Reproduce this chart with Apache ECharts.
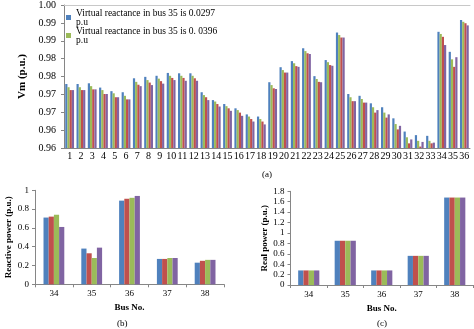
<!DOCTYPE html>
<html>
<head>
<meta charset="utf-8">
<script src="https://cdn.jsdelivr.net/npm/echarts@6/dist/echarts.min.js"></script>
<style>html,body{margin:0;padding:0;background:#fff}#c{width:474px;height:329px}</style>
</head>
<body>
<div id="c"></div>
<script>
// ---- data ----
const buses = ['1','2','3','4','5','6','7','8','9','10','11','12','13','14','15','16','17','18','19','20','21','22','23','24','25','26','27','28','29','30','31','32','33','34','35','36'];
const vmBlue   = [0.9779,0.9779,0.9781,0.9769,0.9759,0.9756,0.9795,0.9799,0.9802,0.9810,0.9809,0.9809,0.9756,0.9734,0.9723,0.9711,0.9694,0.9688,0.9784,0.9826,0.9843,0.9879,0.9801,0.9846,0.9923,0.9751,0.9746,0.9725,0.9714,0.9683,0.9646,0.9636,0.9634,0.9925,0.9869,0.9958];
const vmGreen  = [0.9770,0.9770,0.9773,0.9762,0.9753,0.9746,0.9785,0.9790,0.9794,0.9802,0.9802,0.9802,0.9748,0.9730,0.9717,0.9706,0.9688,0.9681,0.9776,0.9818,0.9837,0.9871,0.9793,0.9840,0.9916,0.9742,0.9737,0.9714,0.9699,0.9667,0.9630,0.9620,0.9620,0.9919,0.9848,0.9953];
const vmRed    = [0.9762,0.9762,0.9764,0.9751,0.9742,0.9736,0.9777,0.9783,0.9787,0.9796,0.9796,0.9795,0.9742,0.9723,0.9711,0.9699,0.9681,0.9674,0.9767,0.9811,0.9829,0.9865,0.9785,0.9832,0.9909,0.9731,0.9727,0.9699,0.9685,0.9652,0.9613,0.9604,0.9613,0.9911,0.9827,0.9949];
const vmPurple = [0.9762,0.9762,0.9764,0.9751,0.9742,0.9736,0.9773,0.9776,0.9780,0.9790,0.9788,0.9788,0.9734,0.9716,0.9704,0.9690,0.9674,0.9666,0.9765,0.9811,0.9827,0.9863,0.9784,0.9830,0.9909,0.9731,0.9727,0.9706,0.9694,0.9662,0.9624,0.9617,0.9615,0.9888,0.9854,0.9943];
const vmTickLabels = ['0.96','0.96','0.97','0.97','0.98','0.98','0.99','0.99','1.00'];
const legendNames = ['Virtual reactance in bus 35 is 0.0297 p.u','Virtual reactance in bus 35 is 0. 0396 p.u'];

const powerBuses = ['34','35','36','37','38'];
const qBlue   = [0.71,0.38,0.89,0.27,0.23];
const qRed    = [0.72,0.33,0.91,0.27,0.25];
const qGreen  = [0.74,0.28,0.92,0.28,0.26];
const qPurple = [0.61,0.39,0.94,0.28,0.26];
const pBlue   = [0.28,0.85,0.28,0.56,1.68];
const pRed    = [0.28,0.85,0.28,0.56,1.68];
const pGreen  = [0.28,0.85,0.28,0.56,1.68];
const pPurple = [0.28,0.85,0.28,0.56,1.68];

// ---- styling ----
const F = 'Liberation Serif';
const C = {blue:'#4F81BD', red:'#C0504D', green:'#9BBB59', purple:'#8064A2'};
const axisGray = '#868686';

const chart = echarts.init(document.getElementById('c'), null, {renderer:'canvas'});

function bar(name, data, color, xi, yi, gap) {
  return {type:'bar', name:name, data:data, xAxisIndex:xi, yAxisIndex:yi,
    itemStyle:{color:color}, barGap:'0%', barCategoryGap:gap, animation:false};
}

const legendText = {fontFamily:F, fontSize:9.5, color:'#000', lineHeight:9, padding:[9,0,0,0]};

chart.setOption({
  animation:false,
  textStyle:{fontFamily:F},
  legend:[
    {data:[legendNames[0]], left:66, top:4, padding:0, itemWidth:5, itemHeight:5, itemGap:0,
     icon:'rect', textStyle:legendText, formatter:n=>n.replace(' p.u','\np.u'), selectedMode:false},
    {data:[legendNames[1]], left:66, top:22, padding:0, itemWidth:5, itemHeight:5, itemGap:0,
     icon:'rect', textStyle:legendText, formatter:n=>n.replace(' p.u','\np.u'), selectedMode:false}
  ],
  grid:[
    {left:64, right:4, top:5, bottom:181},
    {left:35, width:189, top:190.3, bottom:44.7},
    {left:290.5, width:182.5, top:191.3, bottom:44}
  ],
  xAxis:[
    {type:'category', gridIndex:0, data:buses,
     axisLine:{lineStyle:{color:axisGray}}, axisTick:{show:false},
     axisLabel:{interval:0, fontFamily:F, fontSize:10, color:'#000', margin:3},
     name:'(a)', nameLocation:'middle', nameGap:22, nameTextStyle:{fontFamily:F, fontSize:9, color:'#000'}},
    {type:'category', gridIndex:0, data:buses, position:'top',
     axisLine:{lineStyle:{color:'#c8c8c8'}}, axisTick:{show:false}, axisLabel:{show:false}},
    {type:'category', gridIndex:1, data:powerBuses,
     axisLine:{lineStyle:{color:axisGray}}, axisTick:{show:true, alignWithLabel:false, length:3, lineStyle:{color:axisGray}},
     axisLabel:{fontFamily:F, fontSize:9, color:'#000', margin:5},
     name:'Bus No.', nameLocation:'middle', nameGap:19, nameTextStyle:{fontFamily:F, fontSize:9, fontWeight:'bold', color:'#000'}},
    {type:'category', gridIndex:2, data:powerBuses,
     axisLine:{lineStyle:{color:axisGray}}, axisTick:{show:true, length:3, lineStyle:{color:axisGray}},
     axisLabel:{fontFamily:F, fontSize:9, color:'#000', margin:5},
     name:'Bus No.', nameLocation:'middle', nameGap:19, nameTextStyle:{fontFamily:F, fontSize:9, fontWeight:'bold', color:'#000'}}
  ],
  yAxis:[
    {type:'value', gridIndex:0, min:0.96, max:1.0, interval:0.005,
     axisLine:{show:true, lineStyle:{color:axisGray}}, axisTick:{show:true, length:3, lineStyle:{color:axisGray}},
     splitLine:{show:false},
     axisLabel:{fontFamily:F, fontSize:10, color:'#000', margin:8,
       formatter:v=>vmTickLabels[Math.round((v-0.96)/0.005)]},
     name:'Vm (p.u.)', nameLocation:'middle', nameGap:29,
     nameTextStyle:{fontFamily:F, fontSize:11, fontWeight:'bold', color:'#000'}},
    {type:'value', gridIndex:1, min:0, max:1, interval:0.2,
     axisLine:{show:true, lineStyle:{color:axisGray}}, axisTick:{show:true, length:3, lineStyle:{color:axisGray}},
     splitLine:{show:false},
     axisLabel:{fontFamily:F, fontSize:9, color:'#000', margin:6},
     name:'Reactive power (p.u.)', nameLocation:'middle', nameGap:22,
     nameTextStyle:{fontFamily:F, fontSize:9, fontWeight:'bold', color:'#000'}},
    {type:'value', gridIndex:2, min:0, max:1.8, interval:0.2,
     axisLine:{show:true, lineStyle:{color:axisGray}}, axisTick:{show:true, length:3, lineStyle:{color:axisGray}},
     splitLine:{show:false},
     axisLabel:{fontFamily:F, fontSize:9, color:'#000', margin:6},
     name:'Real power (p.u.)', nameLocation:'middle', nameGap:21,
     nameTextStyle:{fontFamily:F, fontSize:9, fontWeight:'bold', color:'#000'}}
  ],
  graphic:[
    {type:'text', left:117, top:319, style:{text:'(b)', font:'9px "Liberation Serif"', fill:'#000'}},
    {type:'text', left:377, top:319, style:{text:'(c)', font:'9px "Liberation Serif"', fill:'#000'}}
  ],
  series:[
    bar(legendNames[0], vmBlue, C.blue, 0, 0, '22%'),
    bar(legendNames[1], vmGreen, C.green, 0, 0, '22%'),
    bar('Series 3', vmRed, C.red, 0, 0, '22%'),
    bar('Series 4', vmPurple, C.purple, 0, 0, '22%'),
    bar('Q1', qBlue, C.blue, 2, 1, '45%'),
    bar('Q2', qRed, C.red, 2, 1, '45%'),
    bar('Q3', qGreen, C.green, 2, 1, '45%'),
    bar('Q4', qPurple, C.purple, 2, 1, '45%'),
    bar('P1', pBlue, C.blue, 3, 2, '42%'),
    bar('P2', pRed, C.red, 3, 2, '42%'),
    bar('P3', pGreen, C.green, 3, 2, '42%'),
    bar('P4', pPurple, C.purple, 3, 2, '42%')
  ]
});
</script>
</body>
</html>
